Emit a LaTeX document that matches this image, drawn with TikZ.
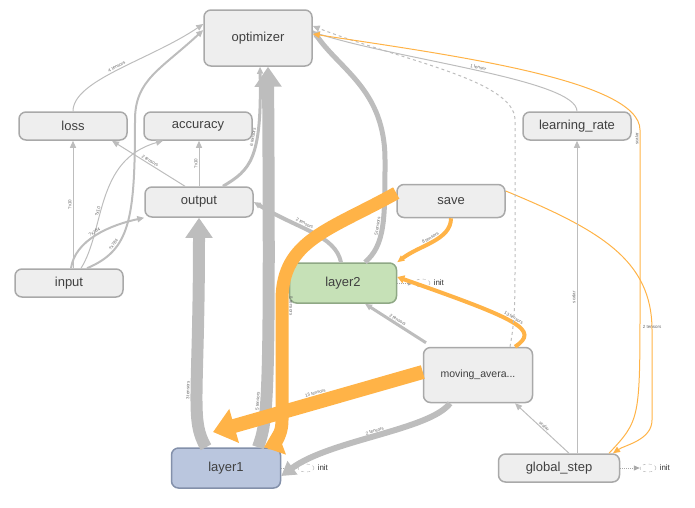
\documentclass[tikz,border=0pt]{standalone}
\usepackage{fontspec}
\setmainfont{Liberation Sans}
\usetikzlibrary{arrows.meta,calc,shapes.geometric}
\definecolor{nfill}{HTML}{EEEEEE}
\definecolor{ndraw}{HTML}{A9A9A9}
\definecolor{gedge}{HTML}{BDBDBD}
\definecolor{oedge}{HTML}{FFB347}
\definecolor{gfill}{HTML}{C6E1B7}
\definecolor{gdraw}{HTML}{8FA885}
\definecolor{bfill}{HTML}{BAC6DE}
\definecolor{bdraw}{HTML}{8390AA}
\begin{document}
\begin{tikzpicture}[x=1pt,y=-1pt,
 nd/.style={draw=ndraw,fill=nfill,line width=1.5pt,rounded corners=7pt,minimum width=108pt,minimum height=28pt,font=\fontsize{13}{15}\selectfont,text=black!75},
 ge/.style={draw=gedge,-{Triangle[length=7pt,width=6pt]}},
 oe/.style={draw=oedge,-{Triangle[length=7pt,width=6pt]}},
 lb/.style={font=\fontsize{4.5}{5}\selectfont,text=black!60,sloped,inner sep=1pt},
 ini/.style={draw=ndraw,dashed,ellipse,minimum width=16pt,minimum height=8pt,inner sep=0pt},
 it/.style={font=\fontsize{8}{9}\selectfont,text=black!80}]
\useasboundingbox (0,0) rectangle (695,507);
% nodes
\node[nd,minimum height=56pt] (opt) at (258,38) {optimizer};
\node[nd] (loss) at (73,126) {loss};
\node[nd] (acc) at (198,126) {accuracy};
\node[nd] (lr) at (577,126) {learning\_rate};
\node[nd,minimum height=30pt] (out) at (199,202) {output};
\node[nd,minimum height=33pt] (save) at (451,201) {save};
\node[nd] (inp) at (69,283) {input};
\node[nd,minimum height=40pt,fill=gfill,draw=gdraw,minimum width=107pt] (l2) at (343,283) {layer2};
\node[nd,minimum height=55pt,minimum width=109pt,font=\fontsize{10.5}{12}\selectfont] (ma) at (478,375) {moving\_avera...};
\node[nd,minimum height=40pt,fill=bfill,draw=bdraw,minimum width=109pt] (l1) at (226,468) {layer1};
\node[nd,minimum width=121pt] (gs) at (559,468) {global\_step};
\node[ini] (i2) at (422,283) {}; \node[it,right] (t2) at (i2.east) {init};
\node[ini] (i1) at (306,468) {}; \node[it,right] (t1) at (i1.east) {init};
\node[ini] (i3) at (648,468) {}; \node[it,right] (t3) at (i3.east) {init};
\foreach \a/\b in {l2/i2,l1/i1,gs/i3}
  \draw[draw=ndraw,densely dotted,line width=1pt,-{Triangle[length=6pt,width=5pt]}] (\a.east) -- (\b.west);
% input edges
\draw[ge,line width=1pt] ([xshift=4pt]inp.north) -- node[lb,above]{?x10} (loss.south);
\draw[ge,line width=1pt] ([xshift=12pt]inp.north) .. controls (105,230) and (95,160) .. node[lb,above,pos=.4]{?x10} ([xshift=-35pt]acc.south);
\draw[ge,line width=2pt] ([xshift=2pt]inp.north) .. controls (75,240) and (110,225) .. node[lb,above]{?x784} (out.south west);
\draw[ge,line width=2pt] ([xshift=18pt]inp.north) .. controls (130,250) and (135,220) .. (135,120) node[lb,above,pos=.3]{?x784} .. controls (135,80) and (160,70) .. ([yshift=8pt]opt.west);
\draw[ge,line width=1pt] (loss.north) .. controls (73,80) and (150,60) .. node[lb,above]{4 tensors} ([yshift=14pt]opt.west);
% output edges
\draw[ge,line width=1pt] ([xshift=-14pt]out.north) -- node[lb,above]{2 tensors} ([xshift=39pt]loss.south);
\draw[ge,line width=1pt] (out.north) -- node[lb,above]{?x10} ([xshift=1pt]acc.south);
\draw[ge,line width=3pt] ([xshift=24pt]out.north) .. controls (250,170) and (262,160) .. node[lb,above,pos=.65]{6 tensors} ([xshift=2pt]opt.south);
% layer1 edges
\draw[draw=gedge,line width=12pt,-{Triangle[length=20pt,width=26pt]}] ([xshift=-20pt]l1.north) .. controls (190,420) and (199,400) .. node[lb,above]{3 tensors} (out.south);
\draw[draw=gedge,line width=12pt,-{Triangle[length=20pt,width=26pt]}] ([xshift=32pt]l1.north) .. controls (268,420) and (270,400) .. node[lb,above,pos=.38]{5 tensors} ([xshift=10pt]opt.south);
% layer2 edges
\draw[ge,line width=4pt] ([xshift=-2pt]l2.north) .. controls (335,235) and (300,230) .. node[lb,above,pos=.6]{2 tensors} (out.east);
\draw[ge,line width=5pt] ([xshift=22pt]l2.north) .. controls (385,245) and (385,220) .. (385,160) node[lb,above,pos=.5]{5 tensors} .. controls (385,90) and (340,70) .. ([yshift=8pt]opt.east);
% save edges
\draw[draw=oedge,line width=13pt,-{Triangle[length=18pt,width=28pt]}] ([yshift=8pt]save.west) .. controls (330,230) and (282,240) .. (282,300) -- node[lb,above,pos=.05]{8 tensors} (282,420) .. controls (282,440) and (270,445) .. ([xshift=38pt]l1.north);
\draw[oe,line width=4pt] (save.south) .. controls (451,240) and (420,245) .. node[lb,above]{8 tensors} (l2.north east);
\draw[oe,line width=1pt] ([yshift=10pt]save.east) .. controls (600,230) and (652,260) .. (652,330) node[lb,above]{2 tensors} -- (652,420) .. controls (652,440) and (625,445) .. ([xshift=54pt]gs.north);
% moving average edges
\draw[ge,line width=3pt] ([xshift=-52pt,yshift=4pt]ma.north) -- node[lb,above]{2 tensors} ([xshift=22pt]l2.south);
\draw[draw=oedge,line width=4pt,-{Triangle[length=7pt,width=8pt]}] ([xshift=37pt]ma.north) .. controls (540,330) and (520,320) .. node[lb,above]{13 tensors} ([yshift=6pt]l2.east);
\draw[draw=oedge,line width=14pt,-{Triangle[length=22pt,width=34pt]}] ([yshift=3pt]ma.west) -- node[lb,above]{13 tensors} (213,432);
\draw[draw=gedge,line width=6pt,-{Triangle[length=14pt,width=16pt]}] ([xshift=-28pt]ma.south) .. controls (430,430) and (330,440) .. node[lb,above]{2 tensors} ([yshift=-8pt]l1.east);
\draw[draw=gedge,dashed,line width=1pt,-{Triangle[length=7pt,width=6pt]}] ([xshift=32pt]ma.north) .. controls (515,320) and (515,300) .. (515,260) -- (515,120) .. controls (515,80) and (400,60) .. ([yshift=12pt]opt.east);
% learning rate & global step
\draw[ge,line width=1pt] (lr.north) .. controls (577,80) and (400,60) .. node[lb,above]{1 tensor} ([yshift=6pt]opt.east);
\draw[ge,line width=1pt] ([xshift=18pt]gs.north) -- node[lb,above]{scalar} (lr.south);
\draw[ge,line width=1pt] ([xshift=10pt]gs.north) -- node[lb,above]{scalar} ([xshift=37pt]ma.south);
\draw[oe,line width=1pt] ([xshift=50pt]gs.north) .. controls (640,420) and (640,420) .. (640,300) -- (640,130) node[lb,above,pos=.95]{scalar} .. controls (640,80) and (450,55) .. ([yshift=4pt]opt.east);
\end{tikzpicture}
\end{document}
